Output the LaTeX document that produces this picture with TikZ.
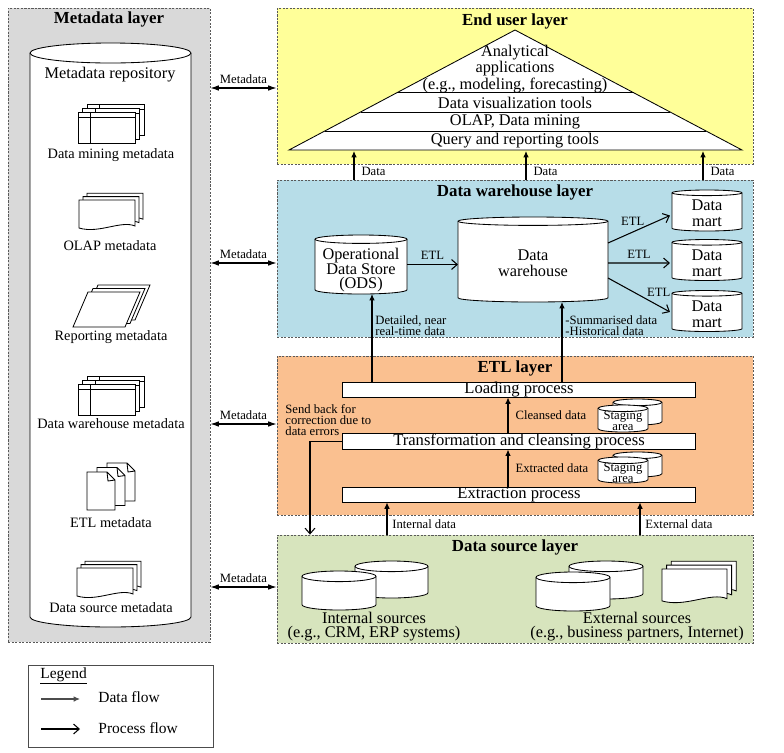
\documentclass[tikz,border=0pt]{standalone}
\usepackage{fontspec}
\setmainfont{Liberation Serif}
\usepackage{tikz}
\usetikzlibrary{arrows.meta,fit,calc}

\definecolor{metagray}{RGB}{217,217,217}
\definecolor{useryellow}{RGB}{255,255,153}
\definecolor{dwblue}{RGB}{183,221,232}
\definecolor{etlorange}{RGB}{250,192,144}
\definecolor{srcgreen}{RGB}{215,228,189}

\begin{document}
\begin{tikzpicture}[x=0.025cm, y=-0.025cm, line width=0.6pt,
        layer/.style={draw=black!65, dash pattern=on 1.5pt off 1pt, inner sep=0pt},
        ttl/.style={font=\fontsize{12}{12}\selectfont\bfseries, inner sep=0pt},
        txt/.style={font=\fontsize{11.6}{11.5}\selectfont, align=center, inner sep=0pt},
        tight/.style={font=\fontsize{11.6}{10}\selectfont},
        icn/.style={font=\fontsize{10.2}{10}\selectfont, inner sep=0pt},
        sml/.style={font=\fontsize{9}{7.8}\selectfont, align=left, inner sep=0pt},
        box/.style={inner sep=0pt, outer sep=0pt},
        dflow/.style={-{Latex[length=4.5pt,width=4pt]}, line width=0.75pt},
        pflow/.style={-{Straight Barb[length=4pt,width=7pt]}, line width=0.75pt},
        mflow/.style={{Latex[length=6pt,width=4pt]}-{Latex[length=6pt,width=4pt]}, line width=0.75pt},
        proc/.style={draw, fill=white, minimum width=8.81cm, minimum height=0.375cm, inner sep=0pt,
            font=\fontsize{11.8}{10}\selectfont},
        pics/can/.style n args={3}{code={
            \draw[fill=white] (-#1,0) -- (-#1,#2) arc[start angle=180, end angle=0, x radius=#1, y radius=#3]
                -- (#1,0) arc[start angle=0, end angle=-180, x radius=#1, y radius=#3] -- cycle;
            \draw (-#1,0) arc[start angle=180, end angle=0, x radius=#1, y radius=#3];
        }},
        tables/.pic={
            \foreach \off in {9,4.5,0}
                \draw[fill=white, shift={(\off,-0.85*\off)}] (0,0) rectangle (57,31)
                    (0,5) -- (57,5) (12.5,0) -- (12.5,31);
        },
        docs/.pic={
            \foreach \off in {8,4,0}
                \draw[fill=white, shift={(\off,-0.85*\off)}] (0,0) -- (56,0) -- (56,26)
                    .. controls (42,20) and (20,34) .. (0,28) -- cycle;
        },
        sheets/.pic={
            \foreach \off in {10,5,0}
                \draw[fill=white, shift={(\off,-0.7*\off)}] (0,0) -- (52,0) -- (37,35) -- (-15,35) -- cycle;
        },
        pages/.pic={
            \foreach \off in {20,10,0}
                \draw[fill=white, shift={(\off,-0.45*\off)}] (0,0) -- (20,0) -- (28,8) -- (28,38) -- (0,38) -- cycle
                    (20,0) -- (21,9) -- (28,8);
        }
    ]
        \useasboundingbox (0,0) rectangle (784,752);

        \node[layer, fill=metagray, fit={(8,8) (210,642)}] (mdl) {};
        \node[layer, fill=useryellow, fit={(277,8) (753,164)}] (eul) {};
        \node[layer, fill=dwblue, fit={(277,180) (753,337)}] (dwl) {};
        \node[layer, fill=etlorange, fit={(277,356) (753,515)}] (etl) {};
        \node[layer, fill=srcgreen, fit={(277,535) (753,643)}] (dsl) {};

        \node[ttl] (mdlt) at (109,19) {Metadata layer};
        \node[ttl] (eult) at (515,21) {End user layer};
        \node[ttl] (dwlt) at (515,192) {Data warehouse layer};
        \node[ttl] (etlt) at (515,368) {ETL layer};
        \node[ttl] (dslt) at (515,547) {Data source layer};

        % metadata repository
        \pic (repo) at (110.5,53) {can={80.5}{564}{10}};
        \node[txt] (repot) at (110,75) {Metadata repository};
        \pic (dmi) at (78,112) {tables};
        \node[icn] (dmit) at (111,155) {Data mining metadata};
        \pic (olp) at (79,200) {docs};
        \node[icn] (olpt) at (110,246) {OLAP metadata};
        \pic (rep) at (88,292) {sheets};
        \node[icn] (rept) at (111,337) {Reporting metadata};
        \pic (dwm) at (78,384) {tables};
        \node[icn] (dwmt) at (111,424) {Data warehouse metadata};
        \pic (etm) at (87,472) {pages};
        \node[icn] (etmt) at (111,523) {ETL metadata};
        \pic (dsm) at (77,568) {docs};
        \node[icn] (dsmt) at (111,608) {Data source metadata};

        \foreach \y [count=\i] in {88,263,424,587} {
            \coordinate (mt\i) at (0,\y);
            \draw[mflow] (mdl.east |- mt\i) -- node[sml, above=3pt] (mtl\i) {Metadata} (eul.west |- mt\i);
        }

        % end user layer
        \coordinate (apx) at (515,30);
        \coordinate (bl) at (289,150);
        \coordinate (br) at (742,150);
        \draw[fill=white] (apx) -- (br) -- (bl) -- cycle;
        \foreach \fr in {0.5225,0.683,0.842}
            \draw ($(apx)!\fr!(bl)$) -- ($(apx)!\fr!(br)$);
        \node[txt, tight] (ana) at (515,69) {Analytical\\applications\\(e.g., modeling, forecasting)};
        \node[txt] (vis) at (515,103) {Data visualization tools};
        \node[txt] (olap) at (515,122) {OLAP, Data mining};
        \node[txt] (qry) at (515,141) {Query and reporting tools};

        \foreach \x [count=\i] in {354,526,703} {
            \coordinate (up\i) at (\x,151);
            \draw[dflow] (dwl.north -| up\i) -- node[sml, right=5pt, pos=0.3] (dat\i) {Data} (up\i);
        }

        % data warehouse layer
        \pic (odsc) at (361,239.2) {can={46}{50.6}{4.2}};
        \node[box, minimum width=2.3cm, minimum height=1.475cm] (ods) at (361,264.5) {};
        \node[txt, tight] (odst) at (361,270) {Operational\\Data Store\\(ODS)};
        \pic (dwc) at (533,221.2) {can={75}{76.6}{4.2}};
        \node[box, minimum width=3.75cm, minimum height=2.125cm] (dw) at (533,259.5) {};
        \node[txt] (dwt) at (533,263) {Data\\warehouse};
        \foreach \y [count=\i] in {210.5,260,311} {
            \pic (martc\i) at (707,\y-17.7) {can={35}{35.4}{2.8}};
            \node[box, minimum width=1.75cm, minimum height=1.025cm] (mart\i) at (707,\y) {};
            \node[txt] (martt\i) at (707,\y+3) {Data\\mart};
        }

        \draw[pflow] (ods.east) -- node[sml, above=3pt] (etl0) {ETL} (ods.east -| dw.west);
        \draw[pflow] ($(dw.east)+(0,-16.5)$) -- node[sml, pos=0.4, above=4pt] (etl1) {ETL} ($(mart1.west)+(-2,5)$);
        \draw[pflow] ($(dw.east)+(0,3.5)$) -- node[sml, above=3pt] (etl2) {ETL} ($(mart2.west)+(-2,3)$);
        \draw[pflow] ($(dw.east)+(0,18.5)$) -- node[sml, pos=0.6, above right=1pt] (etl3) {ETL} ($(mart3.west)+(-2,1)$);

        % etl layer
        \node[proc] (load) at (519,389.5) {Loading process};
        \node[proc] (trans) at (519,441.5) {Transformation and cleansing process};
        \node[proc] (extr) at (519,494.5) {Extraction process};

        \coordinate (odsup) at (372,0);
        \coordinate (dwup) at (562,0);
        \draw[dflow] (load.north -| odsup) -- (ods.south -| odsup);
        \draw[dflow] (load.north -| dwup) -- (dw.south -| dwup);
        \node[sml, anchor=west] (det) at (375,326) {Detailed, near\\real-time data};
        \node[sml, anchor=west] (sum) at (565,326) {-Summarised data\\-Historical data};

        \coordinate (etlup) at (508,0);
        \draw[dflow] (extr.north -| etlup) -- node[sml, right=5pt] (extd) {Extracted data} (trans.south -| etlup);
        \draw[dflow] (trans.north -| etlup) -- node[sml, right=5pt] (clnd) {Cleansed data} (load.south -| etlup);

        \pic (stg1b) at (637.5,402.3) {can={24.5}{19.4}{3.3}};
        \pic (stg1) at (623,408.3) {can={25}{20.4}{3.3}};
        \node[sml, align=center] (stg1t) at (623,420.5) {Staging\\area};
        \pic (stg2b) at (637.5,455.3) {can={24.5}{18.4}{3.3}};
        \pic (stg2) at (623,460.3) {can={25}{19.4}{3.3}};
        \node[sml, align=center] (stg2t) at (623,472.5) {Staging\\area};

        \node[sml, anchor=west] (sendt) at (285,420) {Send back for\\correction due to\\data errors};
        \coordinate (sb) at (310,0);
        \draw[pflow] (trans.west) -| (dsl.north -| sb);

        \coordinate (inup) at (387,0);
        \coordinate (exup) at (640,0);
        \draw[dflow] (dsl.north -| inup) -- (extr.south -| inup);
        \draw[dflow] (dsl.north -| exup) -- (extr.south -| exup);
        \node[sml, anchor=west] (intd) at (392,524) {Internal data};
        \node[sml, anchor=west] (extdt) at (645,524) {External data};

        % data source layer
        \pic (int2) at (391.5,566.3) {can={36.5}{26.4}{5.3}};
        \pic (int1) at (339,576.3) {can={37}{28.4}{5.3}};
        \node[txt, tight] (intt) at (374,626.5) {Internal sources\\(e.g., CRM, ERP systems)};
        \pic (ext2) at (606,566.3) {can={37}{27.4}{5.3}};
        \pic (ext1) at (573,577.3) {can={37}{28.4}{5.3}};
        \pic[xscale=1.16, yscale=1.14] (exd) at (662,569) {docs};
        \node[txt, tight] (extt) at (637,626.5) {External sources\\(e.g., business partners, Internet)};

        % legend
        \node[draw=black!70, fit={(28,665) (213,747)}, inner sep=0pt] (leg) {};
        \node[anchor=west, font=\fontsize{11}{12}\selectfont, inner sep=0pt] (legt) at (40,676) {\underline{Legend}};
        \coordinate (lga) at (41,699);
        \coordinate (lgb) at (80,699);
        \coordinate (lgc) at (41,729);
        \coordinate (lgd) at (80,729);
        \draw[dflow, black!70] (lga) -- (lgb);
        \draw[pflow] (lgc) -- (lgd);
        \node[anchor=west, font=\fontsize{11}{12}\selectfont, inner sep=0pt] (lgdf) at (98,697) {Data flow};
        \node[anchor=west, font=\fontsize{11}{12}\selectfont, inner sep=0pt] (lgpf) at (98,728) {Process flow};
    \end{tikzpicture}
\end{document}
